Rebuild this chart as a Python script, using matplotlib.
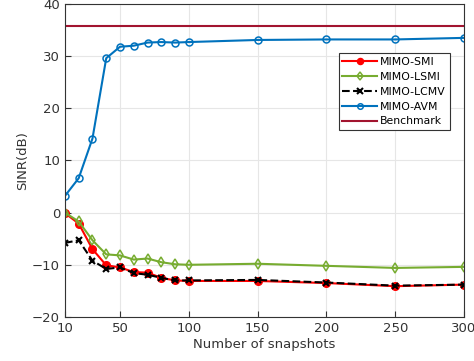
import numpy as np
from matplotlib import pyplot as plt

snapshots = [10, 20, 30, 40, 50, 60, 70, 80, 90, 100, 150, 200, 250, 300]
smi = [-0.1, -2.1, -7.0, -10.1, -10.5, -11.4, -11.5, -12.5, -13.0, -13.1, -13.1, -13.5, -14.1, -13.8]
lsmi = [0.0, -1.7, -5.3, -8.0, -8.2, -9.0, -8.8, -9.5, -9.9, -10.0, -9.8, -10.2, -10.6, -10.4]
lcmv = [-5.8, -5.3, -9.2, -10.8, -10.5, -11.6, -11.9, -12.5, -13.0, -13.0, -12.9, -13.4, -14.0, -13.8]
avm = [3.2, 6.6, 14.2, 29.6, 31.8, 32.0, 32.6, 32.7, 32.6, 32.7, 33.1, 33.2, 33.2, 33.5]
benchmark = 35.7

x_ticks = [10, 50, 100, 150, 200, 250, 300]
y_ticks = [-20, -10, 0, 10, 20, 30, 40]

fig = plt.figure(figsize=(4.74, 3.61), dpi=100)
ax = fig.add_axes([0.137, 0.122, 0.842, 0.867])

ax.plot(snapshots, smi, color='#FF0000', marker='o', ms=5.5, lw=1.5, label='MIMO-SMI')
ax.plot(snapshots, lsmi, color='#77AC30', marker='d', ms=5.5, mfc='none', mew=1.1, lw=1.5, label='MIMO-LSMI')
ax.plot(snapshots, lcmv, color='black', ls='--', marker='x', ms=5, mew=1.5, lw=1.5, label='MIMO-LCMV')
ax.plot(snapshots, avm, color='#0072BD', marker='o', ms=5, mfc='none', mew=1.1, lw=1.5, label='MIMO-AVM')
ax.axhline(benchmark, color='#A2142F', lw=1.5, label='Benchmark')

ax.set_xlim(10, 300)
ax.set_ylim(-20, 40)
ax.set_xticks(x_ticks)
ax.set_yticks(y_ticks)
ax.grid(True, color='#E6E6E6', lw=0.8)
ax.set_axisbelow(True)
ax.tick_params(direction='in', length=4, colors='#333333', labelsize=9.5)
for s in ax.spines.values():
    s.set_color('#333333')
    s.set_linewidth(0.8)

ax.set_xlabel('Number of snapshots', fontsize=9.5, color='#333333', labelpad=2)
ax.set_ylabel('SINR(dB)', fontsize=9.5, color='#333333', labelpad=2)

leg = ax.legend(loc='upper right', bbox_to_anchor=(0.978, 0.86), fontsize=7.8,
                fancybox=False, framealpha=1, edgecolor='#333333', markerscale=0.8,
                handlelength=3.2, labelspacing=0.45, borderpad=0.35, handletextpad=0.3)
leg.get_frame().set_linewidth(0.8)

plt.savefig('out.png', dpi=100)
